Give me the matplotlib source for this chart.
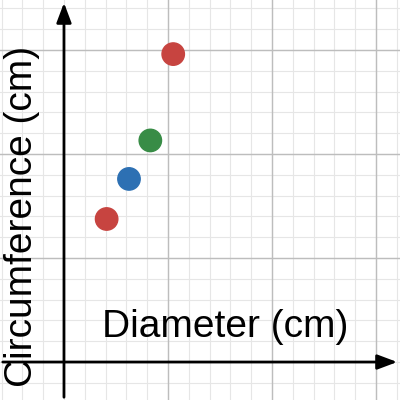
import matplotlib.pyplot as plt
import numpy as np

# values in grid units (one major grid cell = 1)
diameter = [0.41, 0.625, 0.83, 1.05]
circumference = [1.375, 1.76, 2.13, 2.96]
colors = ["#c74440", "#2d70b3", "#388c46", "#c74440"]

plt.rcParams["font.family"] = ["Liberation Sans", "DejaVu Sans"]

fig = plt.figure(figsize=(4, 4), dpi=100)
ax = fig.add_axes([0, 0, 1, 1])
x0, x1 = -0.615, 3.23
y0, y1 = -0.365, 3.48
ax.set_xlim(x0, x1)
ax.set_ylim(y0, y1)

for v in np.arange(-0.6, 3.3, 0.2):
    ax.axvline(v, color="#e6e6e6", lw=0.8, zorder=0)
for v in np.arange(-0.2, 3.5, 0.2):
    ax.axhline(v, color="#e6e6e6", lw=0.8, zorder=0)
for v in [1, 2, 3]:
    ax.axvline(v, color="#bdbdbd", lw=1, zorder=1)
    ax.axhline(v, color="#bdbdbd", lw=1, zorder=1)

ax.annotate("", xy=(x1, 0), xytext=(x0, 0),
            arrowprops=dict(arrowstyle="-|>,head_length=1.2,head_width=0.45", color="black", lw=2))
ax.annotate("", xy=(0, y1), xytext=(0, y0),
            arrowprops=dict(arrowstyle="-|>,head_length=1.2,head_width=0.45", color="black", lw=2))

ax.scatter(diameter, circumference, s=260, c=colors, zorder=5)

ax.text(1.55, 0.34, "Diameter (cm)", fontsize=28, ha="center", va="center")
ax.text(-0.405, 1.4, "Circumference (cm)", fontsize=28, rotation=90,
        ha="center", va="center")
ax.axis("off")
fig.savefig("out.png", dpi=100)
